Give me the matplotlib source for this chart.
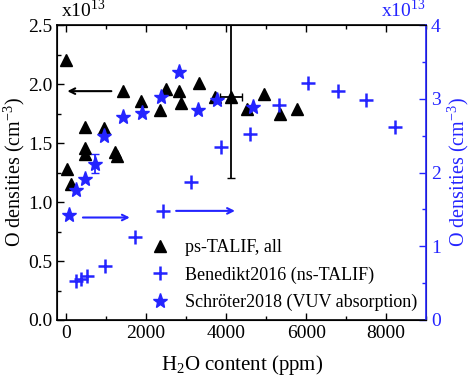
import matplotlib
matplotlib.use("Agg")
import matplotlib.pyplot as plt
from matplotlib.ticker import MultipleLocator

plt.rcParams['font.family'] = ['Liberation Serif', 'DejaVu Serif']
plt.rcParams['mathtext.fontset'] = 'custom'
plt.rcParams['mathtext.rm'] = 'Liberation Serif'

BLUE = '#2424ff'

# ps-TALIF (left axis, x1e13 cm^-3)
ps_x = [0, 30, 120, 460, 475, 475, 935, 1225, 1260, 1417, 1875, 2350, 2490,
        2810, 2875, 3310, 3725, 4117, 4533, 4958, 5350, 5783]
ps_y = [2.20, 1.28, 1.15, 1.64, 1.455, 1.41, 1.63, 1.42, 1.39, 1.94, 1.86, 1.78,
        1.955, 1.94, 1.84, 2.01, 1.89, 1.89, 1.79, 1.915, 1.75, 1.785]
# large error bar on one ps-TALIF point
err_x, err_y, err_dx, err_dy = 4117, 1.89, 270, 0.69

# Benedikt2016 (right axis)
ben_x = [250, 380, 510, 975, 1715, 2420, 3125, 3867, 4600, 5333, 6058, 6792, 7500, 8225]
ben_y = [0.53, 0.55, 0.59, 0.73, 1.12, 1.48, 1.875, 2.35, 2.52, 2.91, 3.22, 3.105, 2.99, 2.62]

# Schroeter2018 (right axis)
sch_x = [75, 250, 465, 720, 940, 1417, 1885, 2360, 2820, 3300, 3767, 4683]
sch_y = [1.42, 1.76, 1.91, 2.12, 2.49, 2.75, 2.81, 3.02, 3.37, 2.85, 2.99, 2.89]
sch_err_x, sch_err_y, sch_err_dy = 720, 2.12, 0.125

# arrows (x_start, x_end, y)
arrow_left = (1200, -40, 1.94)
arrows_right = [(350, 1660, 1.39), (2680, 4290, 1.48)]

fig = plt.figure(figsize=(4.74, 3.83), dpi=100)
ax = fig.add_axes([0.121, 0.1645, 0.778, 0.770])
ax2 = ax.twinx()

ax.plot(ps_x, ps_y, linestyle='none', marker='^', color='black', markersize=9,
        label='ps-TALIF, all', zorder=3)
ax.errorbar([err_x], [err_y], xerr=[err_dx], yerr=[err_dy], fmt='none',
            ecolor='black', elinewidth=1.3, capsize=3, zorder=3)
ax.plot([], [], linestyle='none', marker='+', color=BLUE, markersize=10,
        markeredgewidth=1.8, label='Benedikt2016 (ns-TALIF)')
ax.plot([], [], linestyle='none', marker='*', color=BLUE, markersize=11,
        label='Schröter2018 (VUV absorption)')

ax2.plot(ben_x, ben_y, linestyle='none', marker='+', color=BLUE, markersize=10,
         markeredgewidth=1.8)
ax2.plot(sch_x, sch_y, linestyle='none', marker='*', color=BLUE, markersize=11)
ax2.errorbar([sch_err_x], [sch_err_y], yerr=[sch_err_dy], fmt='none', ecolor=BLUE,
             elinewidth=1.3, capsize=3)

ax.annotate('', xy=(arrow_left[1], arrow_left[2]), xytext=(arrow_left[0], arrow_left[2]),
            arrowprops=dict(arrowstyle='->', color='black', lw=1.5))
for xs, xe, yv in arrows_right:
    ax2.annotate('', xy=(xe, yv), xytext=(xs, yv),
                 arrowprops=dict(arrowstyle='->', color=BLUE, lw=1.5))

ax.set_xlim(-220, 9000)
ax.set_ylim(0, 2.5)
ax2.set_ylim(0, 4)

ax.xaxis.set_major_locator(MultipleLocator(2000))
ax.xaxis.set_minor_locator(MultipleLocator(1000))
ax.yaxis.set_major_locator(MultipleLocator(0.5))
ax.yaxis.set_minor_locator(MultipleLocator(0.25))
ax2.yaxis.set_major_locator(MultipleLocator(1))
ax2.yaxis.set_minor_locator(MultipleLocator(0.5))
ax.yaxis.set_major_formatter(matplotlib.ticker.FormatStrFormatter('%.1f'))

ax.tick_params(axis='both', which='both', direction='in', labelsize=14, top=True, right=False)
ax.tick_params(which='major', length=5, width=1)
ax.tick_params(which='minor', length=3, width=1)
ax2.tick_params(axis='y', which='both', direction='in', labelsize=14, colors=BLUE)
ax2.tick_params(which='major', length=5, width=1)
ax2.tick_params(which='minor', length=3, width=1)
ax2.spines['right'].set_color(BLUE)
for s in ['left', 'bottom', 'top']:
    ax.spines[s].set_linewidth(1.2)
ax2.spines['right'].set_linewidth(1.2)

ax.set_xlabel('H$_2$O content (ppm)', fontsize=15, labelpad=8)
ax.set_ylabel('O densities (cm$^{-3}$)', fontsize=14.5, labelpad=1)
ax2.set_ylabel('O densities (cm$^{-3}$)', fontsize=14.5, color=BLUE, labelpad=3)

fig.text(0.128, 0.945, 'x10$^{13}$', fontsize=14, ha='left', va='bottom')
fig.text(0.898, 0.945, 'x10$^{13}$', fontsize=14, ha='right', va='bottom', color=BLUE)

ax.legend(loc='lower right', frameon=False, fontsize=13, handletextpad=0.6,
          labelspacing=0.55, borderaxespad=0.1, handlelength=1.5)

fig.savefig('out.png', dpi=100)
